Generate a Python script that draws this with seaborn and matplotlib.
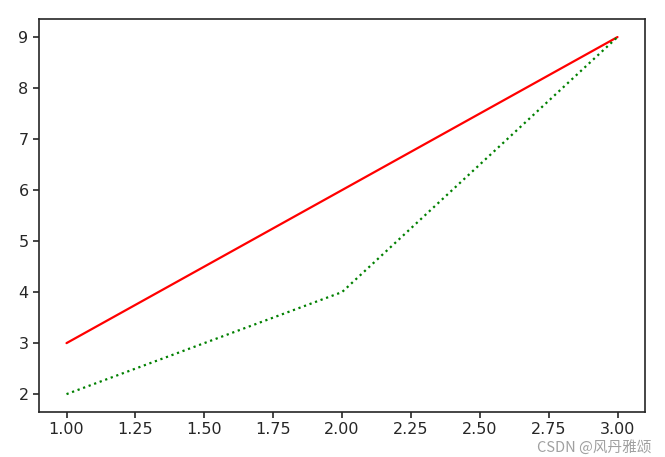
import matplotlib
matplotlib.use("Agg")
import matplotlib.pyplot as plt
import seaborn as sns
import pandas as pd

x = [1, 2, 3]
y_red = [3, 6, 9]
y_green = [2, 4, 9]

sns.set_theme(style="ticks")
plt.rcParams['font.family'] = ['DejaVu Sans', 'Noto Sans CJK SC']

fig = plt.figure(figsize=(6.65, 4.57), dpi=100)
ax = fig.add_axes([0.0586, 0.0985, 0.9114, 0.8595])

df = pd.DataFrame({'x': x, 'red': y_red, 'green': y_green})
sns.lineplot(data=df, x='x', y='red', color='red', linewidth=1.6, ax=ax)
sns.lineplot(data=df, x='x', y='green', color='green', linestyle=':', linewidth=1.6, ax=ax)

ax.set_xlabel("")
ax.set_ylabel("")
ax.set_xticks([1.0, 1.25, 1.5, 1.75, 2.0, 2.25, 2.5, 2.75, 3.0])
ax.set_xticklabels([f"{v:.2f}" for v in ax.get_xticks()])
ax.tick_params(labelsize=11.5, length=4, width=1.2)
for s in ax.spines.values():
    s.set_linewidth(1.2)

fig.text(0.979, 0.022, "CSDN @风丹雅颂", ha='right', va='center', fontsize=10.5,
         color='#a0a0a0', family=['Noto Sans CJK SC', 'DejaVu Sans'])

fig.savefig("out.png", dpi=100)
